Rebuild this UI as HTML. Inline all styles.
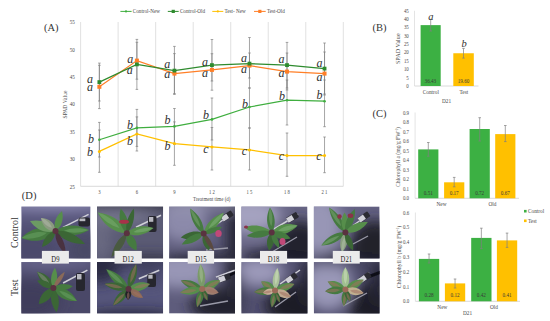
<!DOCTYPE html><html><head><meta charset="utf-8"><style>
html,body{margin:0;padding:0;background:#fff;width:550px;height:321px;overflow:hidden}
svg{display:block}
</style></head><body>
<svg width="550" height="321" viewBox="0 0 550 321" font-family='"Liberation Serif", serif'>

<line x1="80.60" y1="22.0" x2="80.60" y2="186.3" stroke="#d9d9d9" stroke-width="0.8"/>
<line x1="118.13" y1="22.0" x2="118.13" y2="186.3" stroke="#d9d9d9" stroke-width="0.8"/>
<line x1="155.66" y1="22.0" x2="155.66" y2="186.3" stroke="#d9d9d9" stroke-width="0.8"/>
<line x1="193.19" y1="22.0" x2="193.19" y2="186.3" stroke="#d9d9d9" stroke-width="0.8"/>
<line x1="230.71" y1="22.0" x2="230.71" y2="186.3" stroke="#d9d9d9" stroke-width="0.8"/>
<line x1="268.24" y1="22.0" x2="268.24" y2="186.3" stroke="#d9d9d9" stroke-width="0.8"/>
<line x1="305.77" y1="22.0" x2="305.77" y2="186.3" stroke="#d9d9d9" stroke-width="0.8"/>
<line x1="343.30" y1="22.0" x2="343.30" y2="186.3" stroke="#d9d9d9" stroke-width="0.8"/>
<line x1="80.6" y1="186.3" x2="343.3" y2="186.3" stroke="#d0d0d0" stroke-width="0.8"/>
<text transform="translate(74.8,188.50) scale(0.78,1)" font-size="6.6" fill="#4a4a4a" text-anchor="end">25</text>
<text transform="translate(74.8,161.12) scale(0.78,1)" font-size="6.6" fill="#4a4a4a" text-anchor="end">30</text>
<text transform="translate(74.8,133.73) scale(0.78,1)" font-size="6.6" fill="#4a4a4a" text-anchor="end">35</text>
<text transform="translate(74.8,106.35) scale(0.78,1)" font-size="6.6" fill="#4a4a4a" text-anchor="end">40</text>
<text transform="translate(74.8,78.97) scale(0.78,1)" font-size="6.6" fill="#4a4a4a" text-anchor="end">45</text>
<text transform="translate(74.8,51.58) scale(0.78,1)" font-size="6.6" fill="#4a4a4a" text-anchor="end">50</text>
<text transform="translate(74.8,24.20) scale(0.78,1)" font-size="6.6" fill="#4a4a4a" text-anchor="end">55</text>
<text transform="translate(99.36,193.5) scale(0.78,1)" font-size="6" fill="#4a4a4a" text-anchor="middle">3</text>
<text transform="translate(136.89,193.5) scale(0.78,1)" font-size="6" fill="#4a4a4a" text-anchor="middle">6</text>
<text transform="translate(174.42,193.5) scale(0.78,1)" font-size="6" fill="#4a4a4a" text-anchor="middle">9</text>
<text transform="translate(211.95,193.5) scale(0.78,1)" font-size="6" fill="#4a4a4a" text-anchor="middle">1 2</text>
<text transform="translate(249.48,193.5) scale(0.78,1)" font-size="6" fill="#4a4a4a" text-anchor="middle">1 5</text>
<text transform="translate(287.01,193.5) scale(0.78,1)" font-size="6" fill="#4a4a4a" text-anchor="middle">1 8</text>
<text transform="translate(324.54,193.5) scale(0.78,1)" font-size="6" fill="#4a4a4a" text-anchor="middle">2 1</text>
<text transform="translate(211.80,201.00) scale(0.78,1)" font-size="6.4" fill="#4a4a4a" text-anchor="middle">Treatment time (d)</text>
<text transform="translate(66.8,104.5) rotate(-90)" font-size="5.6" fill="#505050" text-anchor="middle">SPAD Value</text>
<text x="51.3" y="30.5" font-size="10.5" fill="#333" text-anchor="middle">(A)</text>
<line x1="99.36" y1="63.1" x2="99.36" y2="101" stroke="#808080" stroke-width="0.7"/>
<line x1="98.06" y1="63.1" x2="100.66" y2="63.1" stroke="#808080" stroke-width="0.7"/>
<line x1="98.06" y1="101" x2="100.66" y2="101" stroke="#808080" stroke-width="0.7"/>
<line x1="136.89" y1="39.4" x2="136.89" y2="89.4" stroke="#808080" stroke-width="0.7"/>
<line x1="135.59" y1="39.4" x2="138.19" y2="39.4" stroke="#808080" stroke-width="0.7"/>
<line x1="135.59" y1="89.4" x2="138.19" y2="89.4" stroke="#808080" stroke-width="0.7"/>
<line x1="174.42" y1="46.4" x2="174.42" y2="94.4" stroke="#808080" stroke-width="0.7"/>
<line x1="173.12" y1="46.4" x2="175.72" y2="46.4" stroke="#808080" stroke-width="0.7"/>
<line x1="173.12" y1="94.4" x2="175.72" y2="94.4" stroke="#808080" stroke-width="0.7"/>
<line x1="211.95" y1="39.5" x2="211.95" y2="90.2" stroke="#808080" stroke-width="0.7"/>
<line x1="210.65" y1="39.5" x2="213.25" y2="39.5" stroke="#808080" stroke-width="0.7"/>
<line x1="210.65" y1="90.2" x2="213.25" y2="90.2" stroke="#808080" stroke-width="0.7"/>
<line x1="249.48" y1="37.5" x2="249.48" y2="88" stroke="#808080" stroke-width="0.7"/>
<line x1="248.18" y1="37.5" x2="250.78" y2="37.5" stroke="#808080" stroke-width="0.7"/>
<line x1="248.18" y1="88" x2="250.78" y2="88" stroke="#808080" stroke-width="0.7"/>
<line x1="287.01" y1="42.4" x2="287.01" y2="88" stroke="#808080" stroke-width="0.7"/>
<line x1="285.71" y1="42.4" x2="288.31" y2="42.4" stroke="#808080" stroke-width="0.7"/>
<line x1="285.71" y1="88" x2="288.31" y2="88" stroke="#808080" stroke-width="0.7"/>
<line x1="324.54" y1="43" x2="324.54" y2="94" stroke="#808080" stroke-width="0.7"/>
<line x1="323.24" y1="43" x2="325.84" y2="43" stroke="#808080" stroke-width="0.7"/>
<line x1="323.24" y1="94" x2="325.84" y2="94" stroke="#808080" stroke-width="0.7"/>
<line x1="99.36" y1="65.3" x2="99.36" y2="108.6" stroke="#808080" stroke-width="0.7"/>
<line x1="98.06" y1="65.3" x2="100.66" y2="65.3" stroke="#808080" stroke-width="0.7"/>
<line x1="98.06" y1="108.6" x2="100.66" y2="108.6" stroke="#808080" stroke-width="0.7"/>
<line x1="136.89" y1="42.3" x2="136.89" y2="79.2" stroke="#808080" stroke-width="0.7"/>
<line x1="135.59" y1="42.3" x2="138.19" y2="42.3" stroke="#808080" stroke-width="0.7"/>
<line x1="135.59" y1="79.2" x2="138.19" y2="79.2" stroke="#808080" stroke-width="0.7"/>
<line x1="174.42" y1="53.6" x2="174.42" y2="93.6" stroke="#808080" stroke-width="0.7"/>
<line x1="173.12" y1="53.6" x2="175.72" y2="53.6" stroke="#808080" stroke-width="0.7"/>
<line x1="173.12" y1="93.6" x2="175.72" y2="93.6" stroke="#808080" stroke-width="0.7"/>
<line x1="211.95" y1="53.7" x2="211.95" y2="81" stroke="#808080" stroke-width="0.7"/>
<line x1="210.65" y1="53.7" x2="213.25" y2="53.7" stroke="#808080" stroke-width="0.7"/>
<line x1="210.65" y1="81" x2="213.25" y2="81" stroke="#808080" stroke-width="0.7"/>
<line x1="249.48" y1="53" x2="249.48" y2="78" stroke="#808080" stroke-width="0.7"/>
<line x1="248.18" y1="53" x2="250.78" y2="53" stroke="#808080" stroke-width="0.7"/>
<line x1="248.18" y1="78" x2="250.78" y2="78" stroke="#808080" stroke-width="0.7"/>
<line x1="287.01" y1="53" x2="287.01" y2="90" stroke="#808080" stroke-width="0.7"/>
<line x1="285.71" y1="53" x2="288.31" y2="53" stroke="#808080" stroke-width="0.7"/>
<line x1="285.71" y1="90" x2="288.31" y2="90" stroke="#808080" stroke-width="0.7"/>
<line x1="324.54" y1="52" x2="324.54" y2="95" stroke="#808080" stroke-width="0.7"/>
<line x1="323.24" y1="52" x2="325.84" y2="52" stroke="#808080" stroke-width="0.7"/>
<line x1="323.24" y1="95" x2="325.84" y2="95" stroke="#808080" stroke-width="0.7"/>
<line x1="99.36" y1="122.4" x2="99.36" y2="157" stroke="#808080" stroke-width="0.7"/>
<line x1="98.06" y1="122.4" x2="100.66" y2="122.4" stroke="#808080" stroke-width="0.7"/>
<line x1="98.06" y1="157" x2="100.66" y2="157" stroke="#808080" stroke-width="0.7"/>
<line x1="136.89" y1="109.4" x2="136.89" y2="146.4" stroke="#808080" stroke-width="0.7"/>
<line x1="135.59" y1="109.4" x2="138.19" y2="109.4" stroke="#808080" stroke-width="0.7"/>
<line x1="135.59" y1="146.4" x2="138.19" y2="146.4" stroke="#808080" stroke-width="0.7"/>
<line x1="174.42" y1="108.5" x2="174.42" y2="144.4" stroke="#808080" stroke-width="0.7"/>
<line x1="173.12" y1="108.5" x2="175.72" y2="108.5" stroke="#808080" stroke-width="0.7"/>
<line x1="173.12" y1="144.4" x2="175.72" y2="144.4" stroke="#808080" stroke-width="0.7"/>
<line x1="211.95" y1="98" x2="211.95" y2="140" stroke="#808080" stroke-width="0.7"/>
<line x1="210.65" y1="98" x2="213.25" y2="98" stroke="#808080" stroke-width="0.7"/>
<line x1="210.65" y1="140" x2="213.25" y2="140" stroke="#808080" stroke-width="0.7"/>
<line x1="249.48" y1="88" x2="249.48" y2="128" stroke="#808080" stroke-width="0.7"/>
<line x1="248.18" y1="88" x2="250.78" y2="88" stroke="#808080" stroke-width="0.7"/>
<line x1="248.18" y1="128" x2="250.78" y2="128" stroke="#808080" stroke-width="0.7"/>
<line x1="287.01" y1="80" x2="287.01" y2="125" stroke="#808080" stroke-width="0.7"/>
<line x1="285.71" y1="80" x2="288.31" y2="80" stroke="#808080" stroke-width="0.7"/>
<line x1="285.71" y1="125" x2="288.31" y2="125" stroke="#808080" stroke-width="0.7"/>
<line x1="324.54" y1="80" x2="324.54" y2="126.7" stroke="#808080" stroke-width="0.7"/>
<line x1="323.24" y1="80" x2="325.84" y2="80" stroke="#808080" stroke-width="0.7"/>
<line x1="323.24" y1="126.7" x2="325.84" y2="126.7" stroke="#808080" stroke-width="0.7"/>
<line x1="99.36" y1="130" x2="99.36" y2="172.3" stroke="#808080" stroke-width="0.7"/>
<line x1="98.06" y1="130" x2="100.66" y2="130" stroke="#808080" stroke-width="0.7"/>
<line x1="98.06" y1="172.3" x2="100.66" y2="172.3" stroke="#808080" stroke-width="0.7"/>
<line x1="136.89" y1="116.9" x2="136.89" y2="151" stroke="#808080" stroke-width="0.7"/>
<line x1="135.59" y1="116.9" x2="138.19" y2="116.9" stroke="#808080" stroke-width="0.7"/>
<line x1="135.59" y1="151" x2="138.19" y2="151" stroke="#808080" stroke-width="0.7"/>
<line x1="174.42" y1="121.9" x2="174.42" y2="165.3" stroke="#808080" stroke-width="0.7"/>
<line x1="173.12" y1="121.9" x2="175.72" y2="121.9" stroke="#808080" stroke-width="0.7"/>
<line x1="173.12" y1="165.3" x2="175.72" y2="165.3" stroke="#808080" stroke-width="0.7"/>
<line x1="211.95" y1="127.5" x2="211.95" y2="170" stroke="#808080" stroke-width="0.7"/>
<line x1="210.65" y1="127.5" x2="213.25" y2="127.5" stroke="#808080" stroke-width="0.7"/>
<line x1="210.65" y1="170" x2="213.25" y2="170" stroke="#808080" stroke-width="0.7"/>
<line x1="249.48" y1="128" x2="249.48" y2="170" stroke="#808080" stroke-width="0.7"/>
<line x1="248.18" y1="128" x2="250.78" y2="128" stroke="#808080" stroke-width="0.7"/>
<line x1="248.18" y1="170" x2="250.78" y2="170" stroke="#808080" stroke-width="0.7"/>
<line x1="287.01" y1="133" x2="287.01" y2="176.3" stroke="#808080" stroke-width="0.7"/>
<line x1="285.71" y1="133" x2="288.31" y2="133" stroke="#808080" stroke-width="0.7"/>
<line x1="285.71" y1="176.3" x2="288.31" y2="176.3" stroke="#808080" stroke-width="0.7"/>
<line x1="324.54" y1="137" x2="324.54" y2="172.7" stroke="#808080" stroke-width="0.7"/>
<line x1="323.24" y1="137" x2="325.84" y2="137" stroke="#808080" stroke-width="0.7"/>
<line x1="323.24" y1="172.7" x2="325.84" y2="172.7" stroke="#808080" stroke-width="0.7"/>
<polyline points="99.36,151.4 136.89,133.9 174.42,143.6 211.95,146.9 249.48,149.9 287.01,155.6 324.54,155.6" fill="none" stroke="#ffc000" stroke-width="1.2"/>
<polyline points="99.36,139.7 136.89,127.9 174.42,126.4 211.95,119.4 249.48,107.0 287.01,100.2 324.54,101.2" fill="none" stroke="#3fae3f" stroke-width="1.2"/>
<polyline points="99.36,86.8 136.89,60.6 174.42,73.6 211.95,69.9 249.48,65.6 287.01,71.6 324.54,73.6" fill="none" stroke="#ff7f27" stroke-width="1.2"/>
<polyline points="99.36,82.1 136.89,64.4 174.42,70.6 211.95,65.1 249.48,63.6 287.01,65.1 324.54,68.6" fill="none" stroke="#2e8b2e" stroke-width="1.2"/>
<circle cx="99.36" cy="151.4" r="1.5" fill="#ffc000"/>
<circle cx="99.36" cy="139.7" r="1.3" fill="#3fae3f"/>
<rect x="97.36" y="84.8" width="4" height="4" fill="#ff7f27"/>
<rect x="97.46" y="80.19999999999999" width="3.8" height="3.8" fill="#2e8b2e"/>
<circle cx="136.89" cy="133.9" r="1.5" fill="#ffc000"/>
<circle cx="136.89" cy="127.9" r="1.3" fill="#3fae3f"/>
<rect x="134.89" y="58.6" width="4" height="4" fill="#ff7f27"/>
<rect x="134.99" y="62.50000000000001" width="3.8" height="3.8" fill="#2e8b2e"/>
<circle cx="174.42" cy="143.6" r="1.5" fill="#ffc000"/>
<circle cx="174.42" cy="126.4" r="1.3" fill="#3fae3f"/>
<rect x="172.42" y="71.6" width="4" height="4" fill="#ff7f27"/>
<rect x="172.52" y="68.69999999999999" width="3.8" height="3.8" fill="#2e8b2e"/>
<circle cx="211.95" cy="146.9" r="1.5" fill="#ffc000"/>
<circle cx="211.95" cy="119.4" r="1.3" fill="#3fae3f"/>
<rect x="209.95" y="67.9" width="4" height="4" fill="#ff7f27"/>
<rect x="210.05" y="63.199999999999996" width="3.8" height="3.8" fill="#2e8b2e"/>
<circle cx="249.48" cy="149.9" r="1.5" fill="#ffc000"/>
<circle cx="249.48" cy="107.0" r="1.3" fill="#3fae3f"/>
<rect x="247.48" y="63.599999999999994" width="4" height="4" fill="#ff7f27"/>
<rect x="247.58" y="61.7" width="3.8" height="3.8" fill="#2e8b2e"/>
<circle cx="287.01" cy="155.6" r="1.5" fill="#ffc000"/>
<circle cx="287.01" cy="100.2" r="1.3" fill="#3fae3f"/>
<rect x="285.01" y="69.6" width="4" height="4" fill="#ff7f27"/>
<rect x="285.11" y="63.199999999999996" width="3.8" height="3.8" fill="#2e8b2e"/>
<circle cx="324.54" cy="155.6" r="1.5" fill="#ffc000"/>
<circle cx="324.54" cy="101.2" r="1.3" fill="#3fae3f"/>
<rect x="322.54" y="71.6" width="4" height="4" fill="#ff7f27"/>
<rect x="322.64" y="66.69999999999999" width="3.8" height="3.8" fill="#2e8b2e"/>
<text x="90.00" y="83.40" font-size="12" font-style="italic" fill="#303030" text-anchor="middle">a</text>
<text x="90.00" y="91.40" font-size="12" font-style="italic" fill="#303030" text-anchor="middle">a</text>
<text x="130.30" y="63.40" font-size="12" font-style="italic" fill="#303030" text-anchor="middle">a</text>
<text x="129.70" y="74.40" font-size="12" font-style="italic" fill="#303030" text-anchor="middle">a</text>
<text x="167.30" y="68.20" font-size="12" font-style="italic" fill="#303030" text-anchor="middle">a</text>
<text x="167.30" y="77.90" font-size="12" font-style="italic" fill="#303030" text-anchor="middle">a</text>
<text x="205.00" y="65.60" font-size="12" font-style="italic" fill="#303030" text-anchor="middle">a</text>
<text x="205.00" y="76.90" font-size="12" font-style="italic" fill="#303030" text-anchor="middle">a</text>
<text x="244.00" y="61.60" font-size="12" font-style="italic" fill="#303030" text-anchor="middle">a</text>
<text x="244.00" y="72.90" font-size="12" font-style="italic" fill="#303030" text-anchor="middle">a</text>
<text x="281.50" y="62.90" font-size="12" font-style="italic" fill="#303030" text-anchor="middle">a</text>
<text x="281.50" y="77.40" font-size="12" font-style="italic" fill="#303030" text-anchor="middle">a</text>
<text x="319.50" y="66.90" font-size="12" font-style="italic" fill="#303030" text-anchor="middle">a</text>
<text x="319.50" y="80.90" font-size="12" font-style="italic" fill="#303030" text-anchor="middle">a</text>
<text x="91.00" y="142.90" font-size="12" font-style="italic" fill="#303030" text-anchor="middle">b</text>
<text x="90.00" y="155.90" font-size="12" font-style="italic" fill="#303030" text-anchor="middle">b</text>
<text x="130.00" y="128.90" font-size="12" font-style="italic" fill="#303030" text-anchor="middle">b</text>
<text x="130.00" y="145.40" font-size="12" font-style="italic" fill="#303030" text-anchor="middle">b</text>
<text x="167.50" y="123.90" font-size="12" font-style="italic" fill="#303030" text-anchor="middle">b</text>
<text x="167.50" y="149.90" font-size="12" font-style="italic" fill="#303030" text-anchor="middle">b</text>
<text x="206.00" y="118.90" font-size="12" font-style="italic" fill="#303030" text-anchor="middle">b</text>
<text x="206.00" y="152.90" font-size="12" font-style="italic" fill="#303030" text-anchor="middle">c</text>
<text x="245.00" y="107.90" font-size="12" font-style="italic" fill="#303030" text-anchor="middle">b</text>
<text x="244.50" y="154.90" font-size="12" font-style="italic" fill="#303030" text-anchor="middle">c</text>
<text x="282.00" y="99.90" font-size="12" font-style="italic" fill="#303030" text-anchor="middle">b</text>
<text x="281.50" y="160.40" font-size="12" font-style="italic" fill="#303030" text-anchor="middle">c</text>
<text x="319.50" y="99.40" font-size="12" font-style="italic" fill="#303030" text-anchor="middle">b</text>
<text x="319.00" y="159.90" font-size="12" font-style="italic" fill="#303030" text-anchor="middle">c</text>
<line x1="120.4" y1="11.4" x2="131.6" y2="11.4" stroke="#3fae3f" stroke-width="1"/>
<circle cx="126.0" cy="11.4" r="1.1" fill="#3fae3f"/>
<text transform="translate(132.80,13.40) scale(0.76,1)" font-size="6.8" fill="#4a4a4a" text-anchor="start">Control-New</text>
<line x1="167.8" y1="11.4" x2="178.7" y2="11.4" stroke="#2e8b2e" stroke-width="1"/>
<rect x="171.65" y="9.8" width="3.2" height="3.2" fill="#2e8b2e"/>
<text transform="translate(179.90,13.40) scale(0.76,1)" font-size="6.8" fill="#4a4a4a" text-anchor="start">Control-Old</text>
<line x1="212.3" y1="11.4" x2="223.3" y2="11.4" stroke="#ffc000" stroke-width="1"/>
<circle cx="217.8" cy="11.4" r="1.1" fill="#ffc000"/>
<text transform="translate(224.50,13.40) scale(0.76,1)" font-size="6.8" fill="#4a4a4a" text-anchor="start">Test- New</text>
<line x1="254" y1="11.4" x2="265.7" y2="11.4" stroke="#ff7f27" stroke-width="1"/>
<rect x="258.25" y="9.8" width="3.2" height="3.2" fill="#ff7f27"/>
<text transform="translate(266.90,13.40) scale(0.76,1)" font-size="6.8" fill="#4a4a4a" text-anchor="start">Test-Old</text>
<text x="379.5" y="31" font-size="10.5" fill="#333" text-anchor="middle">(B)</text>
<line x1="414.5" y1="10.8" x2="414.5" y2="86.0" stroke="#d9d9d9" stroke-width="0.7"/>
<line x1="414.5" y1="86.0" x2="478.5" y2="86.0" stroke="#d0d0d0" stroke-width="0.8"/>
<text transform="translate(408.8,87.90) scale(0.78,1)" font-size="6.3" fill="#4a4a4a" text-anchor="end">0</text>
<text transform="translate(408.8,79.54) scale(0.78,1)" font-size="6.3" fill="#4a4a4a" text-anchor="end">5</text>
<text transform="translate(408.8,71.19) scale(0.78,1)" font-size="6.3" fill="#4a4a4a" text-anchor="end">10</text>
<text transform="translate(408.8,62.83) scale(0.78,1)" font-size="6.3" fill="#4a4a4a" text-anchor="end">15</text>
<text transform="translate(408.8,54.48) scale(0.78,1)" font-size="6.3" fill="#4a4a4a" text-anchor="end">20</text>
<text transform="translate(408.8,46.12) scale(0.78,1)" font-size="6.3" fill="#4a4a4a" text-anchor="end">25</text>
<text transform="translate(408.8,37.77) scale(0.78,1)" font-size="6.3" fill="#4a4a4a" text-anchor="end">30</text>
<text transform="translate(408.8,29.41) scale(0.78,1)" font-size="6.3" fill="#4a4a4a" text-anchor="end">35</text>
<text transform="translate(408.8,21.06) scale(0.78,1)" font-size="6.3" fill="#4a4a4a" text-anchor="end">40</text>
<text transform="translate(408.8,12.70) scale(0.78,1)" font-size="6.3" fill="#4a4a4a" text-anchor="end">45</text>
<rect x="420.6" y="25.12" width="20.1" height="60.88" fill="#3cb043"/>
<rect x="453.3" y="53.25" width="20.5" height="32.75" fill="#ffc000"/>
<line x1="430.7" y1="19.3" x2="430.7" y2="31" stroke="#808080" stroke-width="0.7"/>
<line x1="429.4" y1="19.3" x2="432.0" y2="19.3" stroke="#808080" stroke-width="0.7"/>
<line x1="429.4" y1="31" x2="432.0" y2="31" stroke="#808080" stroke-width="0.7"/>
<line x1="463.5" y1="48.4" x2="463.5" y2="58.1" stroke="#808080" stroke-width="0.7"/>
<line x1="462.2" y1="48.4" x2="464.8" y2="48.4" stroke="#808080" stroke-width="0.7"/>
<line x1="462.2" y1="58.1" x2="464.8" y2="58.1" stroke="#808080" stroke-width="0.7"/>
<text x="430.80" y="19.70" font-size="10.5" font-style="italic" fill="#303030" text-anchor="middle">a</text>
<text x="464.00" y="46.90" font-size="10.5" font-style="italic" fill="#303030" text-anchor="middle">b</text>
<text transform="translate(430.40,83.00) scale(0.78,1)" font-size="6.6" fill="#3a3a3a" text-anchor="middle">36.43</text>
<text transform="translate(463.50,83.00) scale(0.78,1)" font-size="6.6" fill="#3a3a3a" text-anchor="middle">19.60</text>
<text transform="translate(430.80,94.20) scale(0.78,1)" font-size="6.8" fill="#4a4a4a" text-anchor="middle">Control</text>
<text transform="translate(463.80,94.20) scale(0.78,1)" font-size="6.8" fill="#4a4a4a" text-anchor="middle">Test</text>
<text transform="translate(446.60,102.50) scale(0.78,1)" font-size="6.8" fill="#4a4a4a" text-anchor="middle">D21</text>
<text transform="translate(400.2,48.7) rotate(-90)" font-size="6.2" fill="#505050" text-anchor="middle">SPAD Value</text>
<text x="379.6" y="117.2" font-size="10.5" fill="#333" text-anchor="middle">(C)</text>
<line x1="415.1" y1="112.5" x2="415.1" y2="198.3" stroke="#d9d9d9" stroke-width="0.7"/>
<line x1="415.1" y1="198.3" x2="519" y2="198.3" stroke="#d0d0d0" stroke-width="0.8"/>
<text transform="translate(409,200.40) scale(0.78,1)" font-size="6.3" fill="#4a4a4a" text-anchor="end">0.0</text>
<text transform="translate(409,190.87) scale(0.78,1)" font-size="6.3" fill="#4a4a4a" text-anchor="end">0.1</text>
<text transform="translate(409,181.33) scale(0.78,1)" font-size="6.3" fill="#4a4a4a" text-anchor="end">0.2</text>
<text transform="translate(409,171.80) scale(0.78,1)" font-size="6.3" fill="#4a4a4a" text-anchor="end">0.3</text>
<text transform="translate(409,162.27) scale(0.78,1)" font-size="6.3" fill="#4a4a4a" text-anchor="end">0.4</text>
<text transform="translate(409,152.73) scale(0.78,1)" font-size="6.3" fill="#4a4a4a" text-anchor="end">0.5</text>
<text transform="translate(409,143.20) scale(0.78,1)" font-size="6.3" fill="#4a4a4a" text-anchor="end">0.6</text>
<text transform="translate(409,133.67) scale(0.78,1)" font-size="6.3" fill="#4a4a4a" text-anchor="end">0.7</text>
<text transform="translate(409,124.13) scale(0.78,1)" font-size="6.3" fill="#4a4a4a" text-anchor="end">0.8</text>
<text transform="translate(409,114.60) scale(0.78,1)" font-size="6.3" fill="#4a4a4a" text-anchor="end">0.9</text>
<rect x="418.2" y="149.4" width="20.2" height="48.90" fill="#3cb043"/>
<line x1="428.3" y1="142.5" x2="428.3" y2="156.2" stroke="#808080" stroke-width="0.7"/>
<line x1="427.0" y1="142.5" x2="429.6" y2="142.5" stroke="#808080" stroke-width="0.7"/>
<line x1="427.0" y1="156.2" x2="429.6" y2="156.2" stroke="#808080" stroke-width="0.7"/>
<text transform="translate(428.30,195.40) scale(0.78,1)" font-size="6.6" fill="#3a3a3a" text-anchor="middle">0.51</text>
<rect x="444.1" y="182.3" width="20.2" height="16.00" fill="#ffc000"/>
<line x1="454.20000000000005" y1="177.4" x2="454.20000000000005" y2="186.8" stroke="#808080" stroke-width="0.7"/>
<line x1="452.90000000000003" y1="177.4" x2="455.50000000000006" y2="177.4" stroke="#808080" stroke-width="0.7"/>
<line x1="452.90000000000003" y1="186.8" x2="455.50000000000006" y2="186.8" stroke="#808080" stroke-width="0.7"/>
<text transform="translate(454.20,195.40) scale(0.78,1)" font-size="6.6" fill="#3a3a3a" text-anchor="middle">0.17</text>
<rect x="469.6" y="129" width="20.2" height="69.30" fill="#3cb043"/>
<line x1="479.70000000000005" y1="117.7" x2="479.70000000000005" y2="141" stroke="#808080" stroke-width="0.7"/>
<line x1="478.40000000000003" y1="117.7" x2="481.00000000000006" y2="117.7" stroke="#808080" stroke-width="0.7"/>
<line x1="478.40000000000003" y1="141" x2="481.00000000000006" y2="141" stroke="#808080" stroke-width="0.7"/>
<text transform="translate(479.70,195.40) scale(0.78,1)" font-size="6.6" fill="#3a3a3a" text-anchor="middle">0.72</text>
<rect x="495.2" y="134.1" width="20.2" height="64.20" fill="#ffc000"/>
<line x1="505.3" y1="125.5" x2="505.3" y2="141.6" stroke="#808080" stroke-width="0.7"/>
<line x1="504.0" y1="125.5" x2="506.6" y2="125.5" stroke="#808080" stroke-width="0.7"/>
<line x1="504.0" y1="141.6" x2="506.6" y2="141.6" stroke="#808080" stroke-width="0.7"/>
<text transform="translate(505.30,195.40) scale(0.78,1)" font-size="6.6" fill="#3a3a3a" text-anchor="middle">0.67</text>
<text transform="translate(441.50,206.30) scale(0.78,1)" font-size="6.8" fill="#4a4a4a" text-anchor="middle">New</text>
<text transform="translate(492.50,206.30) scale(0.78,1)" font-size="6.8" fill="#4a4a4a" text-anchor="middle">Old</text>
<text transform="translate(399.8,157) rotate(-90)" font-size="5.6" fill="#505050" text-anchor="middle">Chlorophyll a (mg/g FW<tspan font-size="3.2" dy="-1.5">-1</tspan><tspan dy="1.5">)</tspan></text>
<rect x="524" y="209.9" width="2.6" height="2.6" fill="#3cb043"/>
<text transform="translate(528.00,213.40) scale(0.78,1)" font-size="6.8" fill="#4a4a4a" text-anchor="start">Control</text>
<rect x="524" y="219.5" width="2.6" height="2.6" fill="#ffc000"/>
<text transform="translate(528.00,223.00) scale(0.78,1)" font-size="6.8" fill="#4a4a4a" text-anchor="start">Test</text>
<line x1="415.4" y1="212.5" x2="415.4" y2="301.3" stroke="#d9d9d9" stroke-width="0.7"/>
<line x1="415.4" y1="301.3" x2="520" y2="301.3" stroke="#d0d0d0" stroke-width="0.8"/>
<text transform="translate(409.2,303.40) scale(0.78,1)" font-size="6.3" fill="#4a4a4a" text-anchor="end">0.0</text>
<text transform="translate(409.2,288.60) scale(0.78,1)" font-size="6.3" fill="#4a4a4a" text-anchor="end">0.1</text>
<text transform="translate(409.2,273.80) scale(0.78,1)" font-size="6.3" fill="#4a4a4a" text-anchor="end">0.2</text>
<text transform="translate(409.2,259.00) scale(0.78,1)" font-size="6.3" fill="#4a4a4a" text-anchor="end">0.3</text>
<text transform="translate(409.2,244.20) scale(0.78,1)" font-size="6.3" fill="#4a4a4a" text-anchor="end">0.4</text>
<text transform="translate(409.2,229.40) scale(0.78,1)" font-size="6.3" fill="#4a4a4a" text-anchor="end">0.5</text>
<text transform="translate(409.2,214.60) scale(0.78,1)" font-size="6.3" fill="#4a4a4a" text-anchor="end">0.6</text>
<rect x="418.9" y="258.9" width="20.3" height="42.40" fill="#3cb043"/>
<line x1="429.04999999999995" y1="254" x2="429.04999999999995" y2="263" stroke="#808080" stroke-width="0.7"/>
<line x1="427.74999999999994" y1="254" x2="430.34999999999997" y2="254" stroke="#808080" stroke-width="0.7"/>
<line x1="427.74999999999994" y1="263" x2="430.34999999999997" y2="263" stroke="#808080" stroke-width="0.7"/>
<text transform="translate(429.05,297.40) scale(0.78,1)" font-size="6.6" fill="#3a3a3a" text-anchor="middle">0.28</text>
<rect x="444.9" y="283.4" width="20.3" height="17.90" fill="#ffc000"/>
<line x1="455.04999999999995" y1="279" x2="455.04999999999995" y2="288" stroke="#808080" stroke-width="0.7"/>
<line x1="453.74999999999994" y1="279" x2="456.34999999999997" y2="279" stroke="#808080" stroke-width="0.7"/>
<line x1="453.74999999999994" y1="288" x2="456.34999999999997" y2="288" stroke="#808080" stroke-width="0.7"/>
<text transform="translate(455.05,297.40) scale(0.78,1)" font-size="6.6" fill="#3a3a3a" text-anchor="middle">0.12</text>
<rect x="471.2" y="237.9" width="20.3" height="63.40" fill="#3cb043"/>
<line x1="481.34999999999997" y1="228.2" x2="481.34999999999997" y2="248.6" stroke="#808080" stroke-width="0.7"/>
<line x1="480.04999999999995" y1="228.2" x2="482.65" y2="228.2" stroke="#808080" stroke-width="0.7"/>
<line x1="480.04999999999995" y1="248.6" x2="482.65" y2="248.6" stroke="#808080" stroke-width="0.7"/>
<text transform="translate(481.35,297.40) scale(0.78,1)" font-size="6.6" fill="#3a3a3a" text-anchor="middle">0.42</text>
<rect x="496.9" y="240.4" width="20.3" height="60.90" fill="#ffc000"/>
<line x1="507.04999999999995" y1="233.1" x2="507.04999999999995" y2="247.4" stroke="#808080" stroke-width="0.7"/>
<line x1="505.74999999999994" y1="233.1" x2="508.34999999999997" y2="233.1" stroke="#808080" stroke-width="0.7"/>
<line x1="505.74999999999994" y1="247.4" x2="508.34999999999997" y2="247.4" stroke="#808080" stroke-width="0.7"/>
<text transform="translate(507.05,297.40) scale(0.78,1)" font-size="6.6" fill="#3a3a3a" text-anchor="middle">0.41</text>
<text transform="translate(442.30,309.00) scale(0.78,1)" font-size="6.8" fill="#4a4a4a" text-anchor="middle">New</text>
<text transform="translate(494.00,309.00) scale(0.78,1)" font-size="6.8" fill="#4a4a4a" text-anchor="middle">Old</text>
<text transform="translate(467.60,315.40) scale(0.78,1)" font-size="6.8" fill="#4a4a4a" text-anchor="middle">D21</text>
<text transform="translate(400.5,257) rotate(-90)" font-size="5.8" fill="#505050" text-anchor="middle">Chlorophyll b (mg/g FW<tspan font-size="3.2" dy="-1.5">-1</tspan><tspan dy="1.5">)</tspan></text>
<text x="112" y="7.5" font-size="1" fill="#fff"></text>
<text x="29.1" y="199.4" font-size="10.5" fill="#333" text-anchor="middle">(D)</text>
<text transform="translate(18.3,232.6) rotate(-90)" font-size="10" fill="#333" text-anchor="middle">Control</text>
<text transform="translate(18.3,287.8) rotate(-90)" font-size="10" fill="#333" text-anchor="middle">Test</text>
<defs><filter id="bgblur" x="-50%" y="-50%" width="200%" height="200%"><feGaussianBlur stdDeviation="7"/></filter><filter id="lfblur" x="-20%" y="-20%" width="140%" height="140%"><feGaussianBlur stdDeviation="0.35"/></filter></defs>
<clipPath id="pc0"><rect x="21.3" y="206.4" width="69.2" height="52.2"/></clipPath>
<g clip-path="url(#pc0)">
<rect x="21.3" y="206.4" width="69.2" height="52.2" fill="#56547a"/>
<g filter="url(#bgblur)">
<ellipse cx="50" cy="204" rx="60" ry="6" fill="#9a98c0" opacity="1"/>
<ellipse cx="30" cy="250" rx="30" ry="20" fill="#4c4a6c" opacity="1"/>
<ellipse cx="85" cy="250" rx="20" ry="20" fill="#4a4866" opacity="1"/>
</g>
<g filter="url(#lfblur)">
<line x1="63" y1="227.3" x2="88.6" y2="214.3" stroke="#d0d0d8" stroke-width="1.5"/>
<rect x="78.5" y="217.5" width="11.5" height="9.0" rx="2" fill="#26262e"/>
<rect x="79.5" y="218.5" width="5.8" height="2.7" fill="#b8b8c0"/>
<path d="M55.5,231.0 C43.4,224.3 30.1,228.9 21.3,238.0 C33.0,242.9 47.0,241.9 55.5,231.0Z" fill="#457a40"/><path d="M47.0,232.8 C38.4,230.4 28.3,233.3 21.3,238.0 C29.6,239.6 40.1,238.3 47.0,232.8Z" fill="#6aa060" opacity="0.55"/>
<path d="M55.5,231.0 C50.3,221.7 39.6,219.0 30.0,221.0 C35.7,229.0 45.4,234.3 55.5,231.0Z" fill="#6c9a64"/>
<path d="M55.5,231.0 C55.3,222.5 48.6,218.2 41.0,218.0 C42.1,225.6 47.0,231.7 55.5,231.0Z" fill="#8a9a80"/><path d="M51.9,227.8 C50.5,222.8 45.7,219.3 41.0,218.0 C42.8,222.6 46.8,226.9 51.9,227.8Z" fill="#b0b8a8" opacity="0.55"/>
<path d="M55.5,231.0 C62.2,226.6 63.9,218.2 62.0,211.0 C56.2,215.8 52.7,223.4 55.5,231.0Z" fill="#578e4c"/>
<path d="M55.5,231.0 C65.8,238.0 79.1,236.1 89.0,230.0 C78.8,224.5 65.3,223.4 55.5,231.0Z" fill="#457a40"/><path d="M63.9,230.8 C71.5,233.8 81.5,232.8 89.0,230.0 C81.4,227.6 71.3,227.3 63.9,230.8Z" fill="#70a868" opacity="0.55"/>
<path d="M55.5,231.0 C61.9,240.5 74.2,244.6 85.0,244.0 C78.1,235.6 66.8,229.3 55.5,231.0Z" fill="#3a6636"/>
<path d="M55.5,231.0 C54.4,239.7 59.2,248.5 65.5,254.0 C65.8,245.7 62.6,236.1 55.5,231.0Z" fill="#4a3040"/>
<path d="M55.5,231.0 C47.6,232.5 43.0,239.6 42.0,247.0 C49.1,244.8 55.3,239.1 55.5,231.0Z" fill="#3a6636"/>
<circle cx="55.5" cy="231" r="3" fill="#5a3040"/>
</g></g>
<clipPath id="pc1"><rect x="21.3" y="262.1" width="69.2" height="51.5"/></clipPath>
<g clip-path="url(#pc1)">
<rect x="21.3" y="262.1" width="69.2" height="51.5" fill="#4a4868"/>
<g filter="url(#bgblur)">
<ellipse cx="50" cy="262" rx="50" ry="8" fill="#6a6890" opacity="1"/>
<ellipse cx="30" cy="300" rx="30" ry="20" fill="#403e5c" opacity="1"/>
</g>
<g filter="url(#lfblur)">
<line x1="63.1" y1="283" x2="87.4" y2="270.1" stroke="#d0d0d8" stroke-width="1.5"/>
<rect x="76" y="273" width="9.0" height="18.0" rx="2" fill="#26262e"/>
<rect x="77" y="274" width="4.5" height="5.4" fill="#b8b8c0"/>
<path d="M53.4,287.9 C52.9,278.7 45.5,273.1 37.2,271.7 C38.6,280.0 44.2,287.4 53.4,287.9Z" fill="#3a6636"/><path d="M49.4,283.8 C47.7,278.2 42.4,273.8 37.2,271.7 C39.3,276.9 43.7,282.2 49.4,283.8Z" fill="#8a9080" opacity="0.55"/>
<path d="M53.4,287.9 C50.4,281.6 43.5,279.5 37.2,280.5 C40.6,286.0 46.7,289.8 53.4,287.9Z" fill="#3a6636"/>
<path d="M53.4,287.9 C58.3,282.2 58.1,274.0 55.0,267.7 C50.9,273.5 49.4,281.5 53.4,287.9Z" fill="#578e4c"/>
<path d="M53.4,287.9 C59.4,284.8 63.4,278.0 64.7,271.7 C59.3,275.1 54.2,281.2 53.4,287.9Z" fill="#8a6a58"/>
<path d="M53.4,287.9 C59.6,291.9 67.3,290.4 72.8,286.3 C66.7,283.2 58.9,283.0 53.4,287.9Z" fill="#457a40"/>
<path d="M53.4,287.9 C57.2,297.7 67.2,301.7 76.9,300.9 C72.5,292.3 63.7,285.9 53.4,287.9Z" fill="#457a40"/><path d="M59.3,291.1 C63.1,296.7 70.4,300.1 76.9,300.9 C72.8,295.9 66.0,291.4 59.3,291.1Z" fill="#68a060" opacity="0.55"/>
<path d="M53.4,287.9 C48.8,295.9 51.2,305.5 56.6,312.2 C60.1,304.3 59.9,294.5 53.4,287.9Z" fill="#3a6636"/>
<path d="M53.4,287.9 C44.4,288.6 39.5,295.9 38.8,304.1 C46.8,302.5 53.6,296.9 53.4,287.9Z" fill="#3a6636"/>
<circle cx="53.4" cy="287.9" r="3" fill="#5a3040"/>
</g></g>
<clipPath id="pc2"><rect x="97.0" y="206.4" width="66.1" height="52.2"/></clipPath>
<g clip-path="url(#pc2)">
<rect x="97.0" y="206.4" width="66.1" height="52.2" fill="#5a5a74"/>
<g filter="url(#bgblur)">
<ellipse cx="130" cy="203" rx="60" ry="5" fill="#1e1e28" opacity="1"/>
<ellipse cx="115" cy="216" rx="40" ry="7" fill="#7c7c94" opacity="1"/>
<ellipse cx="100" cy="240" rx="10" ry="20" fill="#6a6a82" opacity="1"/>
<ellipse cx="150" cy="262" rx="40" ry="6" fill="#2a2a3a" opacity="1"/>
</g>
<g filter="url(#lfblur)">
<line x1="136" y1="227.2" x2="161" y2="215.3" stroke="#d0d0d8" stroke-width="1.5"/>
<rect x="148" y="216" width="8.6" height="16.0" rx="2" fill="#26262e"/>
<rect x="149" y="217" width="4.3" height="4.8" fill="#b8b8c0"/>
<path d="M126.8,233.2 C122.6,220.6 110.1,213.7 97.7,212.6 C102.8,223.9 113.5,233.4 126.8,233.2Z" fill="#578e4c"/><path d="M119.5,228.0 C115.0,220.5 105.9,214.9 97.7,212.6 C102.6,219.5 110.9,226.3 119.5,228.0Z" fill="#78aa70" opacity="0.55"/>
<path d="M126.8,233.2 C130.4,224.4 126.9,214.8 120.7,208.4 C118.2,216.9 119.5,227.1 126.8,233.2Z" fill="#457a40"/>
<path d="M126.8,233.2 C133.2,227.0 135.1,216.8 133.8,208.4 C128.3,214.9 124.6,224.5 126.8,233.2Z" fill="#3a6636"/>
<path d="M126.8,233.2 C136.0,237.7 146.4,234.4 153.5,228.0 C144.5,224.7 133.6,225.6 126.8,233.2Z" fill="#578e4c"/><path d="M133.5,231.9 C140.0,233.5 147.9,231.3 153.5,228.0 C147.1,227.0 139.0,228.0 133.5,231.9Z" fill="#80b078" opacity="0.55"/>
<path d="M126.8,233.2 C117.9,237.7 112.6,247.9 111.4,257.3 C119.4,252.2 126.4,243.1 126.8,233.2Z" fill="#4a5a40"/>
<path d="M126.8,233.2 C124.3,241.4 129.2,247.7 136.4,250.5 C137.8,242.9 135.1,235.4 126.8,233.2Z" fill="#457a40"/>
<circle cx="126.8" cy="233.2" r="3" fill="#5a3040"/>
<ellipse cx="124" cy="221.8" rx="5" ry="2" fill="#a83048"/>
</g></g>
<clipPath id="pc3"><rect x="97.0" y="262.1" width="66.1" height="51.5"/></clipPath>
<g clip-path="url(#pc3)">
<rect x="97.0" y="262.1" width="66.1" height="51.5" fill="#56567c"/>
<g filter="url(#bgblur)">
<ellipse cx="100" cy="265" rx="20" ry="18" fill="#2a2a42" opacity="1"/>
<ellipse cx="135" cy="260" rx="50" ry="5" fill="#2e2e46" opacity="1"/>
<ellipse cx="150" cy="275" rx="15" ry="10" fill="#48486a" opacity="1"/>
<ellipse cx="130" cy="318" rx="50" ry="6" fill="#1c1c2a" opacity="1"/>
</g>
<g filter="url(#lfblur)">
<line x1="138.8" y1="278.8" x2="159.3" y2="270.3" stroke="#d0d0d8" stroke-width="1.5"/>
<rect x="147.3" y="273.7" width="8.7" height="13.3" rx="2" fill="#26262e"/>
<rect x="148.3" y="274.7" width="4.3" height="4.0" fill="#b8b8c0"/>
<path d="M128.5,289.1 C125.9,278.6 116.2,271.6 106.3,269.3 C109.7,278.9 117.7,287.8 128.5,289.1Z" fill="#457a40"/><path d="M123.0,284.2 C119.8,277.6 112.8,272.1 106.3,269.3 C109.8,275.4 116.1,281.8 123.0,284.2Z" fill="#70a068" opacity="0.55"/>
<path d="M128.5,289.1 C136.2,283.2 138.2,272.9 136.2,264.1 C129.6,270.3 125.5,280.0 128.5,289.1Z" fill="#3a6636"/><path d="M130.4,282.9 C134.6,278.0 136.4,270.3 136.2,264.1 C132.5,269.1 129.7,276.5 130.4,282.9Z" fill="#a07060" opacity="0.55"/>
<path d="M128.5,289.1 C136.4,293.6 144.7,290.3 150.0,284.0 C142.4,280.7 133.5,281.6 128.5,289.1Z" fill="#578e4c"/><path d="M133.9,287.8 C139.4,289.4 145.7,287.3 150.0,284.0 C144.7,283.0 138.1,284.0 133.9,287.8Z" fill="#a07060" opacity="0.55"/>
<path d="M128.5,289.1 C122.5,282.1 112.7,281.1 104.6,284.0 C110.8,289.9 120.2,293.0 128.5,289.1Z" fill="#3a6636"/><path d="M122.5,287.8 C117.7,284.2 110.4,283.2 104.6,284.0 C109.6,287.1 116.6,289.1 122.5,287.8Z" fill="#a07060" opacity="0.55"/>
<path d="M128.5,289.1 C119.8,290.2 114.5,297.5 113.1,305.5 C121.0,303.6 128.0,297.9 128.5,289.1Z" fill="#3a6636"/><path d="M124.7,293.2 C119.3,295.2 115.1,300.4 113.1,305.5 C118.0,303.2 123.0,298.6 124.7,293.2Z" fill="#a07060" opacity="0.55"/>
<path d="M128.5,289.1 C130.3,296.0 136.6,298.6 143.0,297.8 C140.7,291.7 135.4,287.4 128.5,289.1Z" fill="#8a6a58"/><path d="M132.1,291.3 C134.2,295.2 138.8,297.4 143.0,297.8 C140.7,294.3 136.6,291.3 132.1,291.3Z" fill="#a07060" opacity="0.55"/>
<path d="M128.5,289.1 C123.9,292.2 124.6,296.6 128.0,300.0 C131.7,296.9 132.8,292.6 128.5,289.1Z" fill="#202028"/><path d="M128.4,291.8 C126.2,294.2 126.5,297.5 128.0,300.0 C129.7,297.6 130.3,294.4 128.4,291.8Z" fill="#a07060" opacity="0.55"/>
<circle cx="128.5" cy="289.1" r="3" fill="#5a3040"/>
</g></g>
<clipPath id="pc4"><rect x="169.1" y="206.4" width="65.9" height="52.2"/></clipPath>
<g clip-path="url(#pc4)">
<rect x="169.1" y="206.4" width="65.9" height="52.2" fill="#5e5c7c"/>
<g filter="url(#bgblur)">
<ellipse cx="183" cy="222" rx="24" ry="20" fill="#8c8aaa" opacity="1"/>
<ellipse cx="238" cy="235" rx="12" ry="35" fill="#262634" opacity="1"/>
<ellipse cx="205" cy="262" rx="45" ry="9" fill="#2a2a3a" opacity="1"/>
<ellipse cx="200" cy="205" rx="50" ry="3" fill="#a8a8c0" opacity="1"/>
</g>
<g filter="url(#lfblur)">
<line x1="206" y1="250" x2="228" y2="248" stroke="#9a9aa8" stroke-width="1.3"/>
<line x1="214" y1="226" x2="232" y2="214" stroke="#d0d0d8" stroke-width="1.5"/>
<g transform="translate(227.3,216.1) rotate(-33.7)"><rect x="-6" y="-3" width="12" height="6" rx="1" fill="#2a2a32"/><rect x="-6" y="-2.6" width="6.5" height="5.2" fill="#d0d0d8"/></g>
<path d="M203.7,233.5 C204.6,223.3 198.2,213.8 190.2,208.4 C190.3,218.1 194.7,228.6 203.7,233.5Z" fill="#457a40"/><path d="M200.3,227.2 C199.5,220.4 195.0,213.1 190.2,208.4 C191.5,215.0 195.1,222.8 200.3,227.2Z" fill="#7aa070" opacity="0.55"/>
<path d="M203.7,233.5 C214.1,231.6 221.3,222.4 223.8,212.8 C214.2,215.6 205.3,223.0 203.7,233.5Z" fill="#578e4c"/><path d="M208.7,228.3 C215.2,225.6 220.9,219.0 223.8,212.8 C217.7,215.9 211.3,221.7 208.7,228.3Z" fill="#80b078" opacity="0.55"/>
<path d="M203.7,233.5 C210.5,235.2 217.6,231.9 222.0,227.0 C215.5,226.0 207.9,227.9 203.7,233.5Z" fill="#457a40"/>
<path d="M203.7,233.5 C195.9,229.2 186.9,231.9 180.8,237.5 C188.4,240.7 197.8,240.2 203.7,233.5Z" fill="#3a6636"/>
<path d="M203.7,233.5 C194.8,232.3 186.5,237.6 181.7,244.5 C190.1,244.8 199.4,241.3 203.7,233.5Z" fill="#457a40"/>
<path d="M203.7,233.5 C200.5,240.1 203.6,246.7 209.0,250.6 C211.3,244.3 210.1,237.1 203.7,233.5Z" fill="#3a6636"/>
<path d="M203.7,233.5 C203.9,240.5 208.6,247.1 214.0,251.0 C213.2,244.4 209.7,237.0 203.7,233.5Z" fill="#5a4a40"/>
<circle cx="203.7" cy="233.5" r="3" fill="#5a3040"/>
<ellipse cx="218.5" cy="233.5" rx="3.2" ry="3.6" fill="#c04878"/>
</g></g>
<clipPath id="pc5"><rect x="169.1" y="262.1" width="65.9" height="51.5"/></clipPath>
<g clip-path="url(#pc5)">
<rect x="169.1" y="262.1" width="65.9" height="51.5" fill="#5e5c7c"/>
<g filter="url(#bgblur)">
<ellipse cx="180" cy="270" rx="35" ry="18" fill="#9896b6" opacity="1"/>
<ellipse cx="225" cy="305" rx="35" ry="18" fill="#22222e" opacity="1"/>
<ellipse cx="235" cy="275" rx="10" ry="25" fill="#2a2a38" opacity="1"/>
</g>
<g filter="url(#lfblur)">
<line x1="228" y1="276" x2="236" y2="272" stroke="#101018" stroke-width="3"/>
<line x1="200" y1="306" x2="228" y2="301" stroke="#9a9aa8" stroke-width="1.3"/>
<line x1="215.9" y1="277.1" x2="234.7" y2="270.3" stroke="#d0d0d8" stroke-width="1.5"/>
<g transform="translate(224.5,278.0) rotate(-19.9)"><rect x="-6" y="-3" width="12" height="6" rx="1" fill="#2a2a32"/><rect x="-6" y="-2.6" width="6.5" height="5.2" fill="#d0d0d8"/></g>
<path d="M202.2,289.1 C207.3,281.2 205.5,271.3 200.5,264.1 C196.5,271.9 196.1,282.0 202.2,289.1Z" fill="#7a9a68"/><path d="M201.8,282.9 C203.9,277.1 202.9,269.6 200.5,264.1 C198.9,269.9 198.9,277.4 201.8,282.9Z" fill="#a8c098" opacity="0.55"/>
<path d="M202.2,289.1 C197.9,281.3 188.9,278.9 180.8,280.5 C185.5,287.2 193.7,291.7 202.2,289.1Z" fill="#457a40"/><path d="M196.8,287.0 C193.0,282.7 186.4,280.6 180.8,280.5 C184.9,284.3 191.1,287.4 196.8,287.0Z" fill="#a07060" opacity="0.55"/>
<path d="M202.2,289.1 C194.7,284.6 186.0,287.1 180.0,292.5 C187.3,295.9 196.4,295.7 202.2,289.1Z" fill="#578e4c"/><path d="M196.6,290.0 C191.3,288.2 184.7,289.7 180.0,292.5 C185.3,293.7 192.0,293.2 196.6,290.0Z" fill="#a07060" opacity="0.55"/>
<path d="M202.2,289.1 C210.0,291.6 216.8,287.1 220.3,280.5 C212.9,279.0 205.2,281.5 202.2,289.1Z" fill="#578e4c"/><path d="M206.7,287.0 C211.9,287.3 217.1,284.3 220.3,280.5 C215.4,280.6 209.7,282.7 206.7,287.0Z" fill="#a07060" opacity="0.55"/>
<path d="M202.2,289.1 C205.9,295.6 212.7,296.0 218.6,292.7 C214.6,287.2 208.3,284.7 202.2,289.1Z" fill="#a08070"/><path d="M206.3,290.0 C209.4,293.3 214.5,293.9 218.6,292.7 C215.3,289.9 210.5,288.3 206.3,290.0Z" fill="#a07060" opacity="0.55"/>
<path d="M202.2,289.1 C195.8,293.2 194.7,300.7 197.1,307.2 C202.5,302.9 205.5,295.9 202.2,289.1Z" fill="#457a40"/><path d="M200.9,293.6 C197.6,297.1 196.5,302.6 197.1,307.2 C200.0,303.6 202.0,298.3 200.9,293.6Z" fill="#a07060" opacity="0.55"/>
<path d="M202.2,289.1 C200.2,294.1 203.0,298.3 207.4,300.4 C208.7,295.7 207.3,290.9 202.2,289.1Z" fill="#3a6636"/><path d="M203.5,291.9 C203.1,295.2 204.9,298.4 207.4,300.4 C207.5,297.3 206.3,293.7 203.5,291.9Z" fill="#a07060" opacity="0.55"/>
<circle cx="202.2" cy="289.1" r="3" fill="#9a6a58"/>
</g></g>
<clipPath id="pc6"><rect x="241.3" y="206.4" width="66.2" height="52.2"/></clipPath>
<g clip-path="url(#pc6)">
<rect x="241.3" y="206.4" width="66.2" height="52.2" fill="#686686"/>
<g filter="url(#bgblur)">
<ellipse cx="250" cy="215" rx="30" ry="18" fill="#a4a2c0" opacity="1"/>
<ellipse cx="300" cy="245" rx="25" ry="25" fill="#22222e" opacity="1"/>
<ellipse cx="280" cy="258" rx="40" ry="8" fill="#1e1e2a" opacity="1"/>
</g>
<g filter="url(#lfblur)">
<line x1="272" y1="252" x2="297" y2="237" stroke="#9a9aa8" stroke-width="1.3"/>
<line x1="274.2" y1="229" x2="298" y2="214.3" stroke="#d0d0d8" stroke-width="1.5"/>
<g transform="translate(292.5,217.5) rotate(-31.7)"><rect x="-6" y="-3" width="12" height="6" rx="1" fill="#2a2a32"/><rect x="-6" y="-2.6" width="6.5" height="5.2" fill="#d0d0d8"/></g>
<path d="M271.7,232.4 C276.8,224.5 275.0,214.6 270.0,207.4 C266.0,215.2 265.6,225.3 271.7,232.4Z" fill="#457a40"/><path d="M271.3,226.2 C273.4,220.4 272.4,212.9 270.0,207.4 C268.4,213.2 268.4,220.7 271.3,226.2Z" fill="#78a070" opacity="0.55"/>
<path d="M271.7,232.4 C264.6,224.8 253.3,223.9 244.1,227.2 C251.5,233.6 262.3,236.9 271.7,232.4Z" fill="#578e4c"/>
<path d="M271.7,232.4 C263.5,228.5 253.7,230.9 246.8,236.0 C254.8,238.9 265.0,238.5 271.7,232.4Z" fill="#457a40"/>
<path d="M271.7,232.4 C281.2,236.8 291.2,232.7 297.5,225.4 C288.4,222.3 277.7,223.8 271.7,232.4Z" fill="#578e4c"/><path d="M278.1,230.7 C284.7,232.0 292.3,229.3 297.5,225.4 C291.1,224.6 283.2,226.2 278.1,230.7Z" fill="#80b078" opacity="0.55"/>
<path d="M271.7,232.4 C275.8,239.0 283.7,240.5 290.6,238.5 C286.2,232.8 278.9,229.4 271.7,232.4Z" fill="#457a40"/>
<path d="M271.7,232.4 C265.9,237.1 265.9,244.5 269.1,250.5 C273.9,245.6 275.9,238.5 271.7,232.4Z" fill="#3a6636"/>
<path d="M271.7,232.4 C270.3,238.7 274.0,244.6 279.0,248.0 C279.7,242.0 277.4,235.4 271.7,232.4Z" fill="#457a40"/>
<circle cx="271.7" cy="232.4" r="3" fill="#5a3040"/>
<ellipse cx="282.5" cy="241.5" rx="3" ry="3.5" fill="#c04878"/>
<ellipse cx="246" cy="227" rx="2" ry="1.5" fill="#8a3048"/>
</g></g>
<clipPath id="pc7"><rect x="241.3" y="262.1" width="66.2" height="51.5"/></clipPath>
<g clip-path="url(#pc7)">
<rect x="241.3" y="262.1" width="66.2" height="51.5" fill="#525070"/>
<g filter="url(#bgblur)">
<ellipse cx="258" cy="272" rx="26" ry="15" fill="#9c9aba" opacity="1"/>
<ellipse cx="300" cy="305" rx="35" ry="22" fill="#1c1c28" opacity="1"/>
<ellipse cx="310" cy="282" rx="10" ry="25" fill="#262634" opacity="1"/>
<ellipse cx="238" cy="295" rx="6" ry="25" fill="#3a3a50" opacity="1"/>
</g>
<g filter="url(#lfblur)">
<line x1="275" y1="307" x2="296" y2="292" stroke="#9a9aa8" stroke-width="1.3"/>
<line x1="280" y1="284" x2="300" y2="270" stroke="#d0d0d8" stroke-width="1.5"/>
<g transform="translate(291.5,278.0) rotate(-35.0)"><rect x="-6" y="-3" width="12" height="6" rx="1" fill="#2a2a32"/><rect x="-6" y="-2.6" width="6.5" height="5.2" fill="#d0d0d8"/></g>
<path d="M275.0,290.4 C280.7,284.2 280.7,275.1 277.4,268.0 C272.7,274.3 270.7,283.1 275.0,290.4Z" fill="#a8c098"/><path d="M275.6,284.8 C278.4,280.0 278.7,273.2 277.4,268.0 C275.1,272.8 273.9,279.5 275.6,284.8Z" fill="#d0dcc0" opacity="0.55"/>
<path d="M275.0,290.4 C273.9,283.0 267.8,280.4 261.2,281.5 C262.9,287.9 267.8,292.4 275.0,290.4Z" fill="#578e4c"/><path d="M271.6,288.2 C269.8,284.1 265.4,281.8 261.2,281.5 C263.2,285.2 267.1,288.3 271.6,288.2Z" fill="#a07060" opacity="0.55"/>
<path d="M275.0,290.4 C268.3,285.3 260.0,287.1 254.0,292.0 C260.6,296.0 269.1,296.5 275.0,290.4Z" fill="#457a40"/><path d="M269.8,290.8 C264.8,288.6 258.6,289.6 254.0,292.0 C258.9,293.7 265.2,293.7 269.8,290.8Z" fill="#a07060" opacity="0.55"/>
<path d="M275.0,290.4 C282.6,293.8 290.0,290.1 294.4,283.9 C287.2,281.6 279.0,283.1 275.0,290.4Z" fill="#578e4c"/><path d="M279.9,288.8 C285.0,289.7 290.7,287.3 294.4,283.9 C289.4,283.5 283.4,284.9 279.9,288.8Z" fill="#a07060" opacity="0.55"/>
<path d="M275.0,290.4 C277.7,297.6 284.6,299.2 291.1,297.0 C288.0,290.9 282.0,287.2 275.0,290.4Z" fill="#c0a890"/><path d="M279.0,292.0 C281.7,295.9 286.7,297.4 291.1,297.0 C288.2,293.6 283.6,291.2 279.0,292.0Z" fill="#a07060" opacity="0.55"/>
<path d="M275.0,290.4 C270.5,286.8 265.8,288.7 263.0,293.0 C267.4,295.7 272.3,295.6 275.0,290.4Z" fill="#c8b098"/><path d="M272.0,291.0 C268.9,289.7 265.4,290.8 263.0,293.0 C266.0,294.0 269.7,293.6 272.0,291.0Z" fill="#a07060" opacity="0.55"/>
<path d="M275.0,290.4 C269.6,294.7 269.2,301.6 271.8,307.4 C276.3,303.0 278.4,296.3 275.0,290.4Z" fill="#457a40"/><path d="M274.2,294.6 C271.5,298.1 270.9,303.3 271.8,307.4 C274.1,303.9 275.5,298.8 274.2,294.6Z" fill="#a07060" opacity="0.55"/>
<path d="M275.0,290.4 C273.3,295.3 275.9,299.9 279.8,302.5 C280.9,297.9 279.6,292.8 275.0,290.4Z" fill="#3a6636"/><path d="M276.2,293.4 C275.9,296.7 277.6,300.2 279.8,302.5 C279.8,299.3 278.7,295.6 276.2,293.4Z" fill="#a07060" opacity="0.55"/>
<circle cx="275" cy="290.4" r="3" fill="#9a6a58"/>
</g></g>
<clipPath id="pc8"><rect x="313.8" y="206.4" width="65.8" height="52.2"/></clipPath>
<g clip-path="url(#pc8)">
<rect x="313.8" y="206.4" width="65.8" height="52.2" fill="#646284"/>
<g filter="url(#bgblur)">
<ellipse cx="320" cy="225" rx="22" ry="30" fill="#9896b6" opacity="1"/>
<ellipse cx="375" cy="245" rx="25" ry="25" fill="#20202c" opacity="1"/>
<ellipse cx="350" cy="258" rx="40" ry="6" fill="#1e1e2a" opacity="1"/>
</g>
<g filter="url(#lfblur)">
<line x1="353" y1="244" x2="368" y2="236" stroke="#9a9aa8" stroke-width="1.3"/>
<line x1="353" y1="225.5" x2="369" y2="214.3" stroke="#d0d0d8" stroke-width="1.5"/>
<g transform="translate(364.0,217.0) rotate(-35.0)"><rect x="-6" y="-3" width="12" height="6" rx="1" fill="#2a2a32"/><rect x="-6" y="-2.6" width="6.5" height="5.2" fill="#d0d0d8"/></g>
<path d="M345.4,232.4 C345.2,221.8 337.7,212.5 329.1,207.4 C330.2,217.3 335.8,228.0 345.4,232.4Z" fill="#457a40"/><path d="M341.3,226.2 C339.8,219.1 334.5,211.9 329.1,207.4 C331.1,214.1 335.5,221.9 341.3,226.2Z" fill="#78a070" opacity="0.55"/>
<path d="M345.4,232.4 C350.2,226.2 348.8,218.4 344.5,212.6 C340.7,218.7 340.1,226.7 345.4,232.4Z" fill="#578e4c"/>
<path d="M345.4,232.4 C352.9,227.3 355.7,217.6 354.8,209.1 C348.2,214.6 343.5,223.5 345.4,232.4Z" fill="#457a40"/>
<path d="M345.4,232.4 C354.5,234.4 363.0,229.3 367.8,222.1 C359.2,221.1 349.8,224.2 345.4,232.4Z" fill="#578e4c"/>
<path d="M345.4,232.4 C335.5,231.4 326.4,237.6 321.3,245.4 C330.7,245.4 340.8,241.2 345.4,232.4Z" fill="#457a40"/><path d="M339.4,235.7 C332.8,236.4 325.8,240.7 321.3,245.4 C327.7,244.2 335.1,240.8 339.4,235.7Z" fill="#80a878" opacity="0.55"/>
<path d="M345.4,232.4 C339.4,237.5 339.0,245.6 342.0,252.2 C347.0,246.9 349.3,239.2 345.4,232.4Z" fill="#8aa080"/><path d="M344.5,237.3 C341.5,241.4 341.0,247.4 342.0,252.2 C344.6,248.1 346.0,242.2 344.5,237.3Z" fill="#b0c0a8" opacity="0.55"/>
<path d="M345.4,232.4 C343.5,239.6 347.4,246.5 353.0,250.5 C354.0,243.7 351.8,236.1 345.4,232.4Z" fill="#3a6636"/>
<circle cx="345.4" cy="232.4" r="3" fill="#5a3040"/>
<ellipse cx="339.5" cy="216.5" rx="2.2" ry="2.2" fill="#8a3048"/>
<ellipse cx="350.5" cy="215.8" rx="2.8" ry="2.2" fill="#8a3048"/>
</g></g>
<clipPath id="pc9"><rect x="313.8" y="262.1" width="65.8" height="51.5"/></clipPath>
<g clip-path="url(#pc9)">
<rect x="313.8" y="262.1" width="65.8" height="51.5" fill="#4e4c6c"/>
<g filter="url(#bgblur)">
<ellipse cx="328" cy="285" rx="24" ry="26" fill="#9a98b8" opacity="1"/>
<ellipse cx="375" cy="305" rx="28" ry="22" fill="#1c1c28" opacity="1"/>
<ellipse cx="380" cy="282" rx="10" ry="25" fill="#262634" opacity="1"/>
<ellipse cx="345" cy="262" rx="40" ry="3" fill="#3a3a50" opacity="1"/>
</g>
<g filter="url(#lfblur)">
<line x1="368" y1="277" x2="381" y2="272" stroke="#101018" stroke-width="3"/>
<line x1="343" y1="306" x2="367" y2="293" stroke="#9a9aa8" stroke-width="1.3"/>
<line x1="352" y1="284" x2="369" y2="272.5" stroke="#d0d0d8" stroke-width="1.5"/>
<g transform="translate(365.0,277.5) rotate(-34.1)"><rect x="-6" y="-3" width="12" height="6" rx="1" fill="#2a2a32"/><rect x="-6" y="-2.6" width="6.5" height="5.2" fill="#d0d0d8"/></g>
<path d="M345.4,289.5 C351.0,282.8 349.9,273.9 345.4,267.2 C340.9,273.9 339.8,282.8 345.4,289.5Z" fill="#a0c090"/><path d="M345.4,283.9 C347.9,278.9 347.4,272.2 345.4,267.2 C343.4,272.2 342.9,278.9 345.4,283.9Z" fill="#d0dcc0" opacity="0.55"/>
<path d="M345.4,289.5 C342.4,282.0 334.8,279.8 327.6,281.5 C331.1,288.0 337.8,292.2 345.4,289.5Z" fill="#578e4c"/><path d="M340.9,287.5 C338.0,283.4 332.4,281.5 327.6,281.5 C330.8,285.1 335.9,288.0 340.9,287.5Z" fill="#a07060" opacity="0.55"/>
<path d="M345.4,289.5 C338.8,284.4 330.8,286.2 325.1,291.2 C331.6,295.2 339.8,295.6 345.4,289.5Z" fill="#457a40"/><path d="M340.3,289.9 C335.5,287.8 329.5,288.8 325.1,291.2 C329.8,292.8 336.0,292.8 340.3,289.9Z" fill="#a07060" opacity="0.55"/>
<path d="M345.4,289.5 C353.5,291.5 360.3,286.7 363.7,279.8 C356.1,278.8 348.3,281.6 345.4,289.5Z" fill="#578e4c"/><path d="M350.0,287.1 C355.3,287.1 360.5,283.8 363.7,279.8 C358.6,280.2 352.9,282.7 350.0,287.1Z" fill="#a07060" opacity="0.55"/>
<path d="M345.4,289.5 C349.8,296.1 357.4,296.4 363.7,293.0 C359.1,287.5 351.9,285.0 345.4,289.5Z" fill="#c0b090"/><path d="M350.0,290.4 C353.6,293.6 359.2,294.2 363.7,293.0 C360.0,290.2 354.6,288.7 350.0,290.4Z" fill="#a07060" opacity="0.55"/>
<path d="M345.4,289.5 C340.5,294.1 340.7,300.8 343.8,306.2 C347.8,301.5 349.4,294.9 345.4,289.5Z" fill="#457a40"/><path d="M345.0,293.7 C342.6,297.2 342.6,302.3 343.8,306.2 C345.8,302.6 346.6,297.6 345.0,293.7Z" fill="#a07060" opacity="0.55"/>
<path d="M345.4,289.5 C343.1,294.5 345.7,298.9 350.0,301.3 C351.5,296.6 350.4,291.6 345.4,289.5Z" fill="#3a6636"/><path d="M346.5,292.4 C345.9,295.7 347.7,299.2 350.0,301.3 C350.3,298.1 349.2,294.5 346.5,292.4Z" fill="#a07060" opacity="0.55"/>
<circle cx="345.4" cy="289.5" r="3" fill="#9a6a58"/>
</g></g>
<rect x="41.9" y="250.9" width="27.0" height="12.7" fill="#ebebeb"/>
<text transform="translate(55.40,261.8) scale(0.85,1)" font-size="7.8" fill="#1a1a1a" text-anchor="middle">D9</text>
<rect x="114.5" y="250.9" width="27.3" height="12.7" fill="#ebebeb"/>
<text transform="translate(128.15,261.8) scale(0.85,1)" font-size="7.8" fill="#1a1a1a" text-anchor="middle">D12</text>
<rect x="187.7" y="250.9" width="26.4" height="12.7" fill="#ebebeb"/>
<text transform="translate(200.90,261.8) scale(0.85,1)" font-size="7.8" fill="#1a1a1a" text-anchor="middle">D15</text>
<rect x="260" y="250.9" width="27.1" height="12.7" fill="#ebebeb"/>
<text transform="translate(273.55,261.8) scale(0.85,1)" font-size="7.8" fill="#1a1a1a" text-anchor="middle">D18</text>
<rect x="332.8" y="250.9" width="27.0" height="12.7" fill="#ebebeb"/>
<text transform="translate(346.30,261.8) scale(0.85,1)" font-size="7.8" fill="#1a1a1a" text-anchor="middle">D21</text>
</svg></body></html>
